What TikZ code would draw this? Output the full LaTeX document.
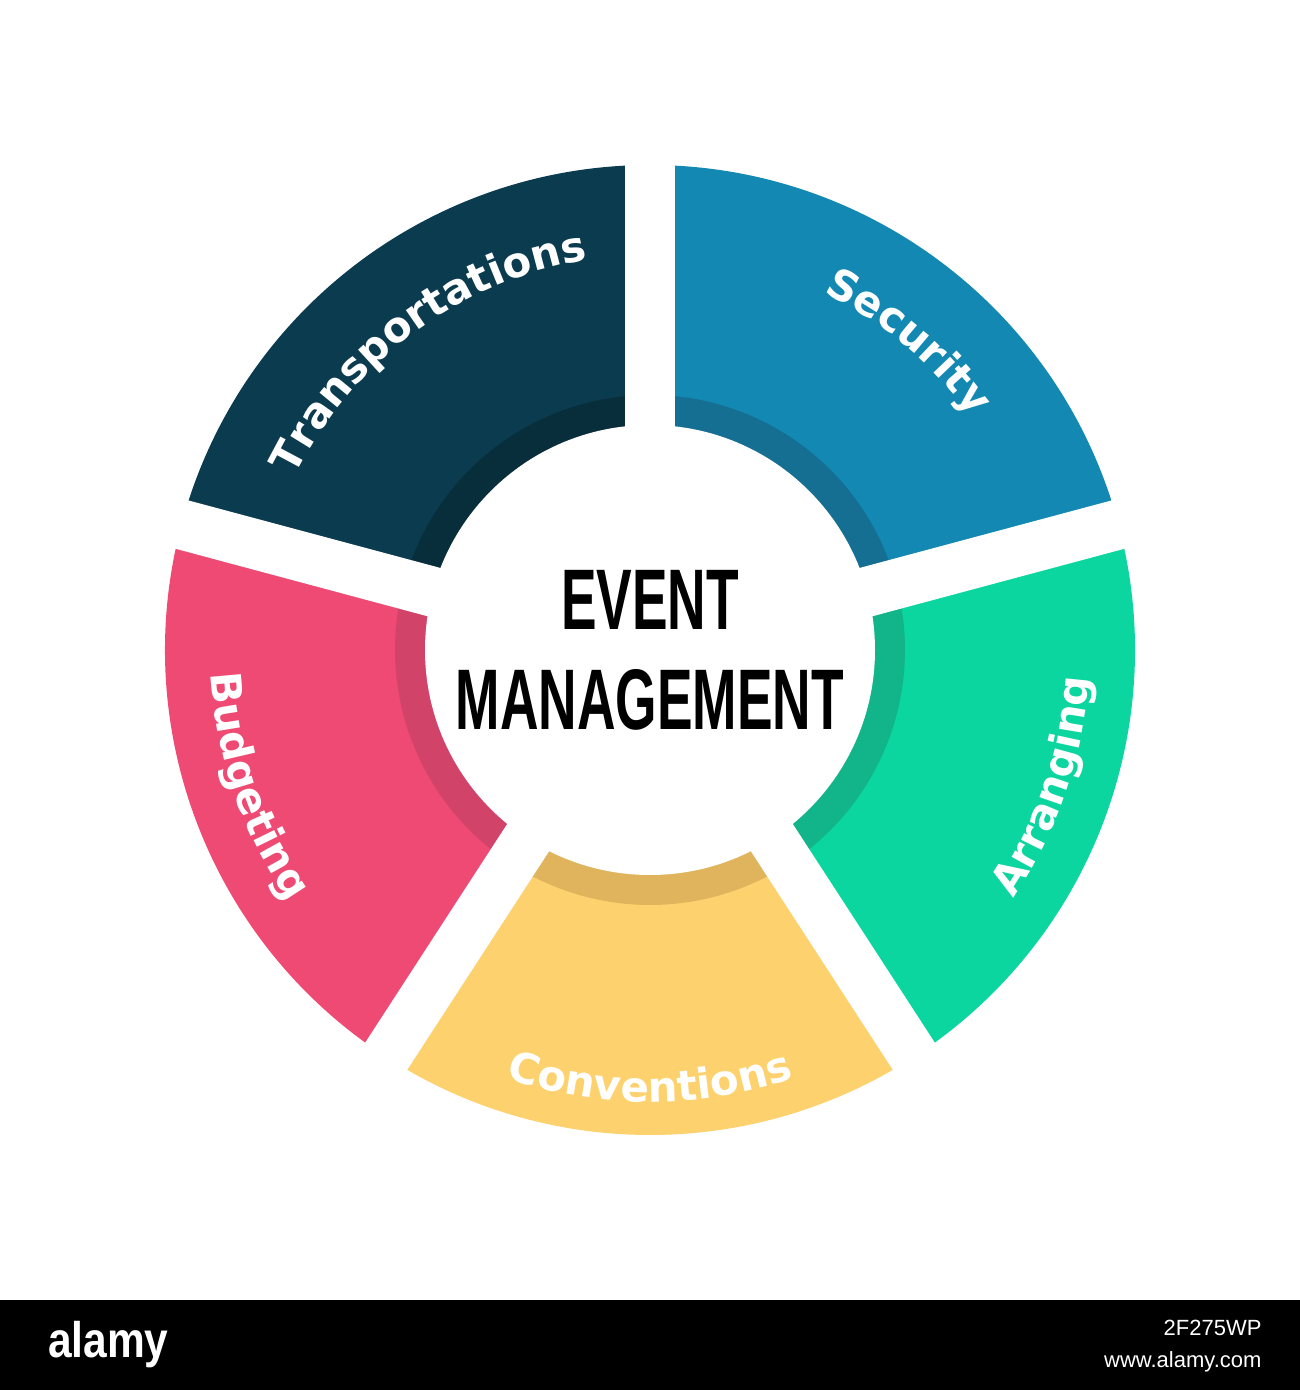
\documentclass[tikz,border=0pt]{standalone}
\usepackage{fontspec}
\setmainfont{Liberation Sans}
\newfontfamily\lblfont{DejaVu Sans}
\usetikzlibrary{decorations.text}
\definecolor{tA}{HTML}{0B3B4E}\definecolor{tAs}{HTML}{082E3C}
\definecolor{sA}{HTML}{1288B3}\definecolor{sAs}{HTML}{146F92}
\definecolor{aA}{HTML}{0BD6A0}\definecolor{aAs}{HTML}{12B48A}
\definecolor{cA}{HTML}{FDD26E}\definecolor{cAs}{HTML}{E0B45C}
\definecolor{bA}{HTML}{EF4A74}\definecolor{bAs}{HTML}{D2436A}
\tikzset{
 lbl/.style={decorate,decoration={text along path,text align=center,text color=white,
   text={|\lblfont\bfseries\fontsize{42}{42}\selectfont|#1}}},
 gapline/.style={white,line width=50pt}
}
\begin{document}
\begin{tikzpicture}[x=1pt,y=1pt]
\useasboundingbox (0,0) rectangle (1300,1390);
\fill[white] (0,0) rectangle (1300,1390);
\coordinate (c) at (650,740);
% sectors
\foreach \a/\b/\col in {90/165/tA,15/90/sA,-57/15/aA,-123/-57/cA,165/237/bA}{
  \fill[\col] (c) -- ++(\a:485) arc[start angle=\a,end angle=\b,radius=485] -- cycle;
  \fill[\col s] (c) -- ++(\a:255) arc[start angle=\a,end angle=\b,radius=255] -- cycle;
}
\foreach \g in {90,15,-57,-123,165}{
  \draw[gapline] (c) -- ++(\g:500);
}
\fill[white] (c) circle[radius=225];
% labels
\path[lbl=Transportations] (c) ++(160:395) arc[start angle=160,end angle=93,radius=395];
\path[lbl=Security] (c) ++(75:397) arc[start angle=75,end angle=25,radius=397];
\path[lbl=Arranging] (c) ++(-45:440) arc[start angle=-45,end angle=7,radius=440];
\path[lbl=Budgeting] (c) ++(173:440) arc[start angle=173,end angle=225,radius=440];
\path[lbl=Conventions] (c) ++(240:452) arc[start angle=240,end angle=300,radius=452];
% center
\node[font=\bfseries\fontsize{86}{86}\selectfont,xscale=0.62] (t1) at (650,790) {EVENT};
\node[font=\bfseries\fontsize{86}{86}\selectfont,xscale=0.62] (t2) at (650,690) {MANAGEMENT};
% bottom bar
\fill[black] (0,0) rectangle (1300,90);
\node[white,font=\bfseries\fontsize{50}{50}\selectfont,xscale=0.85,anchor=west] (al) at (45,45) {alamy};
\node[white,font=\fontsize{22}{22}\selectfont,anchor=east] (id) at (1265,62) {2F275WP};
\node[white,font=\fontsize{22}{22}\selectfont,anchor=east] (www) at (1265,28) {www.alamy.com};
\end{tikzpicture}
\end{document}
